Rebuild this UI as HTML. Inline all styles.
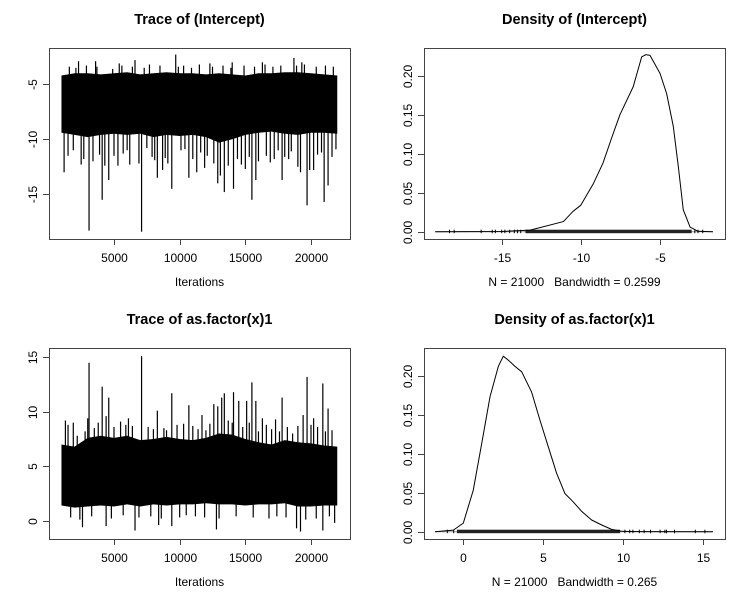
<!DOCTYPE html>
<html><head><meta charset="utf-8"><style>
body{margin:0;background:#fff}
svg{display:block;font-family:"Liberation Sans",Arial,sans-serif}
text{white-space:pre}
</style></head><body>
<svg id="c" width="750" height="600" viewBox="0 0 750 600"></svg>
<script>
// ---------- data ----------
const traceBins = [1000,2000,3000,4000,5000,6000,7000,8000,9000,10000,11000,12000,13000,14000,15000,16000,17000,18000,19000,20000,21000,22000];
const intHi = [-4.2,-4.0,-4.0,-4.1,-4.0,-3.9,-4.1,-4.0,-3.9,-4.0,-4.0,-4.1,-4.0,-4.1,-4.2,-4.0,-4.0,-3.9,-3.9,-4.0,-4.1,-4.2];
const intLo = [-9.4,-9.6,-9.8,-9.6,-9.5,-9.6,-9.5,-9.8,-9.6,-9.7,-9.6,-9.8,-10.3,-10.0,-9.6,-9.4,-9.3,-9.5,-9.6,-9.4,-9.4,-9.5];
const intSpikeIter = [9700,6600,18700,2300,3600,14000,19300,12300,5400,16300,1200,3100,4100,7100,8300,9400,10700,12900,13400,14100,15500,15800,17800,19200,19700,21000,21300,2500,4600,5300,11300,13100,16900,20200,3400,6200,8700,11900,14700,18300,
 1500,1900,2700,3900,4300,5000,5700,6000,6900,7500,7900,8100,8900,9100,10100,10400,11000,11600,12100,12600,13700,14400,15000,15300,16000,16600,17200,17500,18000,18500,19000,19900,20500,20800,21600,21900,
 1600,2100,2900,3700,4900,5600,6400,7300,7700,8500,9900,10300,10900,11500,12500,13300,13900,14900,15700,16500,17100,17700,18900,19500,20400,21100,21700];
const intSpikeVal = [-2.3,-2.8,-2.6,-2.9,-2.9,-3.0,-3.0,-3.1,-3.1,-3.0,-13.0,-18.3,-15.5,-18.4,-13.5,-14.5,-13.5,-14.0,-14.8,-14.5,-15.5,-13.7,-13.7,-13.0,-16.0,-15.7,-14.2,-12.3,-13.7,-12.4,-13.0,-13.3,-12.1,-12.8,-12.0,-12.3,-12.8,-12.6,-12.3,-11.8,
 -11.5,-11.0,-11.8,-11.4,-12.4,-11.5,-11.3,-11.0,-12.2,-10.8,-11.6,-11.9,-11.7,-12.2,-11.0,-10.9,-11.8,-11.2,-11.5,-12.2,-12.4,-11.8,-12.7,-11.6,-12.0,-11.5,-11.8,-11.0,-11.6,-11.1,-12.5,-12.8,-11.4,-11.2,-11.6,-10.9,
 -3.4,-3.5,-3.3,-3.4,-3.6,-3.3,-3.4,-3.5,-3.2,-3.3,-3.4,-3.3,-3.5,-3.2,-3.4,-3.3,-3.5,-3.3,-3.4,-3.2,-3.4,-3.3,-3.3,-3.2,-3.4,-3.3,-3.4];

const facHi = [7.0,6.8,7.6,7.8,7.6,7.8,7.4,7.5,7.7,7.5,7.4,7.6,8.0,7.9,7.5,7.2,7.0,7.4,7.2,7.1,6.9,6.8];
const facLo = [1.4,1.2,1.3,1.4,1.3,1.5,1.3,1.5,1.4,1.5,1.5,1.6,1.5,1.5,1.4,1.5,1.5,1.6,1.3,1.3,1.4,1.4];
const facSpikeIter = [1300,3000,3100,4100,4400,4600,6100,7100,8300,9400,10700,11700,12600,12900,13200,13400,14100,14500,15100,15500,15800,16300,17300,17800,19400,19700,20200,20900,21300,2600,6600,9400,12800,18900,19200,20900,4400,8400,21800,
 1500,1900,2200,2800,3500,3800,5000,5500,5900,6400,7600,8000,8800,9000,9800,10300,11000,11400,12000,12300,13700,14000,14800,15300,16000,16600,17000,17600,18200,18600,19000,20000,20500,21100,21600,
 1700,2400,3300,4800,5700,6900,7800,8600,10000,10500,11200,11900,13000,14300,15600,16800,17400,18100,19600,20400,21400];
const facSpikeVal = [9.2,9.4,14.5,12.3,9.6,11.3,9.4,15.1,10.1,11.7,10.6,9.7,10.7,10.5,11.3,11.7,11.8,11.0,11.0,12.7,11.0,9.4,9.3,11.3,9.7,13.2,9.4,12.6,10.3,-0.6,-0.9,-0.5,-0.8,-0.7,-1.0,-0.9,-0.5,-0.4,-0.2,
 8.8,9.0,7.8,8.2,8.5,9.0,8.6,9.1,8.8,8.7,8.6,8.4,8.5,8.3,8.8,8.9,8.7,8.4,8.3,8.9,9.2,9.0,8.6,9.0,8.2,8.8,8.4,8.2,8.6,8.0,8.7,8.8,8.6,8.2,8.3,
 0.3,0.1,0.4,0.2,0.5,0.3,0.4,0.2,0.3,0.5,0.4,0.3,0.2,0.4,0.3,0.2,0.4,0.3,0.1,0.2,0.4];

const densIntX = [-19.2,-15,-13.2,-11.1,-10.5,-10.0,-9.2,-8.6,-8.06,-7.53,-6.69,-6.16,-5.9,-5.63,-5.0,-4.58,-4.16,-3.84,-3.53,-3.1,-2.6,-1.65];
const densIntY = [0,0.0003,0.002,0.013,0.026,0.034,0.062,0.088,0.12,0.15,0.186,0.224,0.227,0.226,0.203,0.177,0.135,0.083,0.028,0.006,0.0005,0];
const rugIntDense = [-13.5,-3.0];
const rugIntSparse = [-18.3,-18.0,-16.3,-15.6,-15.4,-15.0,-14.8,-14.5,-14.2,-14.0,-13.8,-2.8,-2.6,-2.3];

const densFacX = [-1.77,-0.62,0,0.62,1.15,1.67,2.19,2.5,2.81,3.23,3.65,4.27,4.79,5.31,5.83,6.35,6.88,7.4,8.02,8.65,9.27,9.9,11,15.6];
const densFacY = [0,0.002,0.011,0.053,0.113,0.173,0.212,0.225,0.220,0.212,0.205,0.179,0.143,0.109,0.075,0.049,0.038,0.026,0.015,0.0086,0.003,0.0005,0.0001,0];
const rugFacDense = [-0.4,9.8];
const rugFacSparse = [-1.0,-0.6,10.1,10.4,10.6,11.0,11.3,11.7,12.3,12.6,12.7,13.2,14.5,15.1];

const traceTicks = [5000,10000,15000,20000];
const intYTicks = [-5,-10,-15];
const facYTicks = [0,5,10,15];
const densIntXTicks = [-15,-10,-5];
const densFacXTicks = [0,5,10,15];
const densYTicks = [0,0.05,0.1,0.15,0.2];

// ---------- helpers ----------
const svg = document.getElementById('c');
const NS = 'http://www.w3.org/2000/svg';
function el(tag, attrs, parent){const e=document.createElementNS(NS,tag);for(const k in attrs)e.setAttribute(k,attrs[k]);(parent||svg).appendChild(e);return e;}
function txt(s, attrs, parent){const e=el('text',attrs,parent);e.textContent=s;return e;}
function lin(d0,d1,p0,p1){return v=>p0+(v-d0)*(p1-p0)/(d1-d0);}

function panel(o){
  const g=el('g',{});
  
  
  const t=txt(o.title,{x:(o.L+o.R)/2,y:o.T-24,'text-anchor':'middle','font-size':'14.5','font-weight':'bold'},g);
  
  
  const sx=o.sx, sy=o.sy;
  o.draw(g,sx,sy);
  const b=el('rect',{x:o.L+0.5,y:o.T+0.5,width:o.R-o.L,height:o.B-o.T,fill:'none',stroke:'#444','stroke-width':1},g);
  
  
  const xa=el('g',{},g);
  
  
  const xs=o.xticks.map(sx);
  el('line',{x1:Math.min(...xs),x2:Math.max(...xs),y1:o.B+0.5,y2:o.B+0.5,stroke:'#444'},xa);
  o.xticks.forEach(v=>{const x=Math.round(sx(v))+0.5;el('line',{x1:x,x2:x,y1:o.B,y2:o.B+6,stroke:'#444'},xa);
    const l=txt(String(v),{x:x,y:o.B+23,'text-anchor':'middle','font-size':'12'},xa);
    
    });
  const xl=txt(o.xlabel,{x:(o.L+o.R)/2,y:o.B+47,'text-anchor':'middle','font-size':'12'},g);
  
  
  const ya=el('g',{},g);
  
  
  const ys=o.yticks.map(sy);
  el('line',{x1:o.L+0.5,x2:o.L+0.5,y1:Math.min(...ys),y2:Math.max(...ys),stroke:'#444'},ya);
  o.yticks.forEach(v=>{const y=Math.round(sy(v))+0.5;el('line',{x1:o.L-6,x2:o.L,y1:y,y2:y,stroke:'#444'},ya);
    const s=o.yfmt?o.yfmt(v):String(v);
    const l=txt(s,{x:0,y:0,'text-anchor':'middle','font-size':'12',transform:`translate(${o.L-12},${y}) rotate(-90)`},ya);
    
    });
}

function traceDraw(hi,lo,si,sv){
  return (g,sx,sy)=>{
    const top=traceBins.map((b,i)=>[sx(b),sy(hi[i])]);
    const bot=traceBins.map((b,i)=>[sx(b),sy(lo[i])]).reverse();
    const pts=top.concat(bot).map(p=>p.join(',')).join(' ');
    const band=el('polygon',{points:pts,fill:'#000'},g);
    
    
    const mid=(hi[0]+lo[0])/2;
    si.forEach((it,i)=>{const x=sx(it);
      const s=el('line',{x1:x,x2:x,y1:sy(mid),y2:sy(sv[i]),stroke:'#000','stroke-width':1.2},g);
      
      });
  };
}
function densDraw(xs,ys,dense,sparse){
  return (g,sx,sy)=>{
    const base=el('line',{x1:sx(xs[0]),x2:sx(xs[xs.length-1]),y1:sy(0),y2:sy(0),stroke:'#999','stroke-width':1},g);
    
    
    const r=el('rect',{x:sx(dense[0]),y:sy(0)-2,width:sx(dense[1])-sx(dense[0]),height:3.5,fill:'#222'},g);
    
    
    sparse.forEach(v=>{const t=el('line',{x1:sx(v),x2:sx(v),y1:sy(0)-2,y2:sy(0)+1.5,stroke:'#000'},g);
      
      });
    const p=el('polyline',{points:xs.map((x,i)=>sx(x)+','+sy(ys[i])).join(' '),fill:'none',stroke:'#000','stroke-width':1,'stroke-linejoin':'round'},g);
    
    
  };
}
const fmt2=v=>v.toFixed(2);

panel({name:'trace-intercept-panel',title:'Trace of (Intercept)',L:49,R:350,T:48,B:239,
  sx:lin(5000,20000,114,311),sy:lin(-5,-15,84.3,194.3),xticks:traceTicks,yticks:intYTicks,xlabel:'Iterations',
  draw:traceDraw(intHi,intLo,intSpikeIter,intSpikeVal)});
panel({name:'density-intercept-panel',title:'Density of (Intercept)',L:424,R:725,T:48,B:239,
  sx:lin(-15,-5,501.7,660),sy:lin(0,0.2,231.7,75.7),xticks:densIntXTicks,yticks:densYTicks,yfmt:fmt2,xlabel:'N = 21000   Bandwidth = 0.2599',
  draw:densDraw(densIntX,densIntY,rugIntDense,rugIntSparse)});
panel({name:'trace-factor-panel',title:'Trace of as.factor(x)1',L:49,R:350,T:348,B:539,
  sx:lin(5000,20000,114,311),sy:lin(0,15,520.7,357.3),xticks:traceTicks,yticks:facYTicks,xlabel:'Iterations',
  draw:traceDraw(facHi,facLo,facSpikeIter,facSpikeVal)});
panel({name:'density-factor-panel',title:'Density of as.factor(x)1',L:424,R:725,T:348,B:539,
  sx:lin(0,5,463.3,543.3),sy:lin(0,0.2,531.7,375.7),xticks:densFacXTicks,yticks:densYTicks,yfmt:fmt2,xlabel:'N = 21000   Bandwidth = 0.265',
  draw:densDraw(densFacX,densFacY,rugFacDense,rugFacSparse)});
</script>
</body></html>
